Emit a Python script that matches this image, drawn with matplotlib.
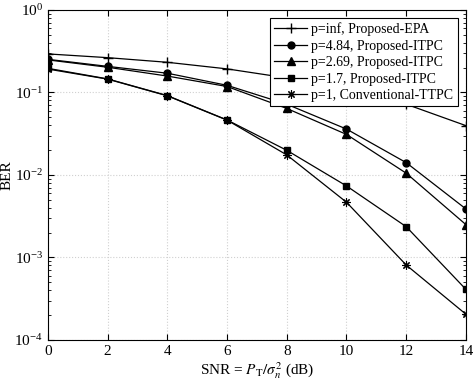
import matplotlib
matplotlib.use('Agg')
import matplotlib.pyplot as plt
from matplotlib.ticker import LogLocator, NullFormatter

plt.rcParams['font.family'] = ['Liberation Serif', 'DejaVu Serif']
plt.rcParams['mathtext.fontset'] = 'stix'

snr = [0, 2, 4, 6, 8, 10, 12, 14]
ber_inf = [0.293, 0.264, 0.232, 0.193, 0.150, 0.108, 0.072, 0.0396]
ber_484 = [0.252, 0.207, 0.171, 0.122, 0.072, 0.036, 0.0141, 0.00387]
ber_269 = [0.248, 0.202, 0.158, 0.118, 0.064, 0.031, 0.0105, 0.0025]
ber_17 = [0.196, 0.146, 0.0916, 0.0464, 0.0199, 0.00736, 0.00236, 0.00041]
ber_1 = [0.192, 0.145, 0.091, 0.0462, 0.0175, 0.00467, 0.00081, 0.000205]

labels = ['p=inf, Proposed-EPA', 'p=4.84, Proposed-ITPC', 'p=2.69, Proposed-ITPC',
          'p=1.7, Proposed-ITPC', 'p=1, Conventional-TTPC']

fig = plt.figure(figsize=(4.74, 3.82), dpi=100)
ax = fig.add_axes([0.101, 0.110, 0.882, 0.864])

ax.semilogy(snr, ber_inf, 'k-', marker='+', markersize=7, lw=0.9, label=labels[0])
ax.semilogy(snr, ber_484, 'k-', marker='o', markersize=5, lw=0.9, label=labels[1])
ax.semilogy(snr, ber_269, 'k-', marker='^', markersize=5.5, lw=0.9, label=labels[2])
ax.semilogy(snr, ber_17, 'k-', marker='s', markersize=4.5, lw=0.9, label=labels[3])
ax.semilogy(snr, ber_1, 'k-', marker=(8, 2, 0), markersize=6, mew=0.8, lw=0.9, label=labels[4])

ax.set_xlim(0, 14)
ax.set_ylim(1e-4, 1)
ax.set_xticks(snr)
ax.yaxis.set_major_locator(LogLocator(base=10, numticks=10))
ax.yaxis.set_minor_locator(LogLocator(base=10, subs=range(2, 10), numticks=10))
ax.yaxis.set_minor_formatter(NullFormatter())
ax.tick_params(which='both', direction='in', top=True, right=True, labelsize=11)
ax.tick_params(which='major', length=4)
ax.tick_params(which='minor', length=2)
ax.grid(True, which='major', ls=':', color='#d0d0d0', lw=0.8)

ax.set_xlabel(r'SNR = $P_{\mathrm{T}}/\sigma_n^2$ (dB)', fontsize=11, labelpad=2)
ax.set_ylabel('BER', fontsize=11)
ax.yaxis.set_label_coords(-0.082, 0.5)

leg = ax.legend(loc='upper right', fontsize=10, fancybox=False, edgecolor='k',
                framealpha=1, labelspacing=0.25, handlelength=2.4, handletextpad=0.3,
                borderpad=0.3, borderaxespad=0.6)
leg.get_frame().set_linewidth(0.8)

plt.savefig('out.png', dpi=100)
